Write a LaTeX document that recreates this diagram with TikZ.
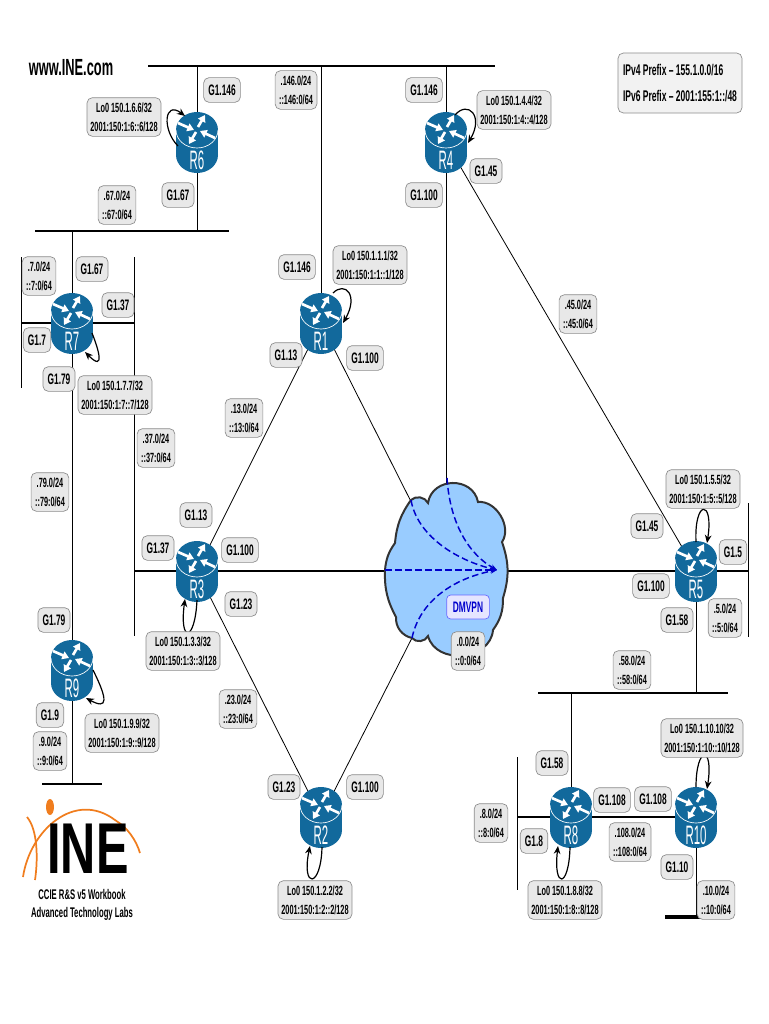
\documentclass[tikz,border=0pt]{standalone}
\usepackage{fontspec}
\setmainfont[FakeStretch=0.55]{Liberation Sans}
\usetikzlibrary{arrows.meta,backgrounds}
\definecolor{routerblue}{HTML}{12699C}
\definecolor{cloudblue}{HTML}{99CCFF}
\definecolor{logoorange}{HTML}{F07D1E}
\tikzset{
  ifbox/.style={draw=black!45,fill=black!9,rounded corners=4pt,line width=0.5pt,inner xsep=3.5pt,inner ysep=0pt,
    minimum height=18.5pt,align=center,font=\fontsize{11.4}{14}\selectfont\bfseries},
  lobox/.style={ifbox,minimum height=29pt,inner xsep=2.5pt,font=\fontsize{10}{14.2}\selectfont\bfseries},
  netbox/.style={ifbox,minimum height=29pt,inner xsep=3pt,font=\fontsize{10}{14.2}\selectfont\bfseries},
  routerbox/.style={inner sep=0pt,minimum width=31pt,minimum height=45pt},
  routername/.style={text=white,inner sep=0pt,xscale=0.78,font=\fontsize{20}{20}\selectfont},
  wire/.style={line width=0.6pt},
  bus/.style={line width=1pt},
  loopback/.style={line width=0.9pt,-{Stealth[length=6pt,width=5pt]}},
  tunnel/.style={draw=blue!80!black,dash pattern=on 5pt off 2.5pt,line width=1.1pt,-{Stealth[length=5pt]}},
}
% router: name, x, y
\newcommand{\router}[3]{%
  \begin{scope}[shift={(#2,#3)}]
    \fill[routerblue] (0,-12) ellipse [x radius=21,y radius=18];
    \fill[routerblue] (0,13) ellipse [x radius=21,y radius=18];
    \fill[routerblue] (-21,-12) rectangle (21,13);
    \draw[white,line width=0.5pt] (-21,-12) arc [start angle=180,end angle=0,x radius=21,y radius=18];
    \draw[white,line width=2pt,-{Triangle[length=5pt,width=6pt]}] (-19,-19) -- (-3,-12);
    \draw[white,line width=2pt,-{Triangle[length=5pt,width=6pt]}] (1,-15) -- (8,-27);
    \draw[white,line width=2pt,-{Triangle[length=5pt,width=6pt]}] (18,-4) -- (3,-11);
    \draw[white,line width=2pt,-{Triangle[length=5pt,width=6pt]}] (-1,-10) -- (-8,2);
    \node[routername] (#1name) at (0,18) {#1};
  \end{scope}
  \node[routerbox] (#1) at (#2,#3) {};
}
% loopback arrow: router, start, control, control, end (relative to router)
\newcommand{\loopback}[5]{%
  \draw[loopback] ([shift={(#2)}]#1.center) .. controls ([shift={(#3)}]#1.center) and ([shift={(#4)}]#1.center) .. ([shift={(#5)}]#1.center);
}
\begin{document}
\begin{tikzpicture}[x=0.75pt,y=-0.75pt]
\useasboundingbox (0,0) rectangle (768,1024);
% routers
\router{R6}{197}{142}
\router{R4}{446}{142}
\router{R1}{321}{323}
\router{R7}{72}{323}
\router{R3}{197}{571}
\router{R5}{696}{571}
\router{R9}{72}{670}
\router{R2}{321}{817}
\router{R8}{571}{817}
\router{R10}{696}{817}
% segment ends
\coordinate (topL) at (148,66);
\coordinate (topR) at (495,66);
\coordinate (net67L) at (35,231);
\coordinate (net67R) at (229,231);
\coordinate (net7T) at (21,257);
\coordinate (net7B) at (21,388);
\coordinate (net37T) at (134,257);
\coordinate (net37B) at (134,636);
\coordinate (net9L) at (42,784);
\coordinate (net9R) at (102,784);
\coordinate (net5T) at (748,503);
\coordinate (net5B) at (748,637);
\coordinate (net58L) at (538,693);
\coordinate (net58R) at (728,693);
\coordinate (net8T) at (517,757);
\coordinate (net8B) at (517,890);
\coordinate (net10L) at (665,917);
\coordinate (net10R) at (726,917);
\coordinate (hub) at (446,571);
\coordinate (tip) at (497,570);
\begin{scope}[on background layer]
  \draw[bus] (topL) -- (topR);
  \draw[bus] (net67L) -- (net67R);
  \draw[bus] (net58L) -- (net58R);
  \draw[bus] (net9L) -- (net9R);
  \draw[line width=2.4pt] (net10L) -- (net10R);
  \draw[wire] (net7T) -- (net7B);
  \draw[wire] (net37T) -- (net37B);
  \draw[wire] (net5T) -- (net5B);
  \draw[wire] (net8T) -- (net8B);
  \draw[wire] (R6.center) -- (R6.center |- topL);
  \draw[wire] (R6.center) -- (R6.center |- net67L);
  \draw[wire] (R1.center) -- (R1.center |- topL);
  \draw[wire] (R4.center) -- (R4.center |- topL);
  \draw[wire] (R4.center) -- (hub);
  \draw[wire] (R4.center) -- (R5.center);
  \draw[wire] (R7.center) -- (R7.center |- net67L);
  \draw[wire] (R7.center) -- (R9.center);
  \draw[wire] (R9.center) -- (R9.center |- net9L);
  \draw[bus] (R7.center) -- (R7.center -| net7T);
  \draw[bus] (R7.center) -- (R7.center -| net37T);
  \draw[bus] (R3.center) -- (R3.center -| net37T);
  \draw[bus] (R3.center) -- (R5.center);
  \draw[bus] (R5.center) -- (R5.center -| net5T);
  \draw[wire] (R5.center) -- (R5.center |- net58L);
  \draw[wire] (R8.center) -- (R8.center |- net58L);
  \draw[bus] (R8.center) -- (R8.center -| net8T);
  \draw[bus] (R8.center) -- (R10.center);
  \draw[wire] (R10.center) -- (R10.center |- net10L);
  \draw[wire] (R1.center) -- (R3.center);
  \draw[wire] (R3.center) -- (R2.center);
  \draw[wire] (R1.center) -- (hub);
  \draw[wire] (R2.center) -- (hub);
\end{scope}
% loopbacks
\loopback{R6}{-19,4}{-35,-12}{-33,-42}{-12,-26}
\loopback{R4}{9,-27}{22,-42}{38,-26}{22,1}
\loopback{R1}{12,-30}{24,-42}{38,-28}{22,0}
\loopback{R7}{20,10}{26,25}{34,50}{13,29}
\loopback{R3}{0,29}{-2,72}{-18,72}{-12,28}
\loopback{R9}{21,0}{36,30}{36,40}{14,28}
\loopback{R2}{1,30}{0,72}{-20,72}{-11,29}
\loopback{R5}{0,-29}{-2,-72}{18,-72}{11,-28}
\loopback{R8}{-1,30}{-2,72}{-18,72}{-13,29}
\loopback{R10}{0,-30}{0,-72}{18,-72}{11,-28}
% cloud
\draw[fill=cloudblue,draw=black!80,line width=1.5pt] (385,570)
  to[bend left=15] (395,543) to[bend left=15] (411,500) to[bend left=55] (428,503)
  to[bend left=80,looseness=1.35] (478,502) to[bend left=65] (502,542) to[bend left=18] (503,598)
  to[bend left=18] (493,630) to[bend left=80,looseness=1.2] (428,636) to[bend left=60] (412,638)
  to[bend left=40] (396,617) to[bend left=15] (385,570) -- cycle;
% tunnels
\coordinate (tun1) at (411,500);
\coordinate (tun2) at (447,478);
\coordinate (tun3) at (385,570);
\coordinate (tun4) at (412,638);
\draw[tunnel] (tun1) .. controls (417,535) and (455,560) .. (tip);
\draw[tunnel] (tun2) .. controls (450,525) and (470,555) .. (tip);
\draw[tunnel] (tun3) -- (tip);
\draw[tunnel] (tun4) .. controls (420,600) and (455,578) .. (tip);
\node[draw=blue!60,fill=blue!10,rounded corners=3pt,line width=0.5pt,minimum width=32pt,minimum height=18pt,inner sep=0pt,text=blue!80!black,font=\fontsize{11.4}{14}\selectfont\bfseries] (dmvpn) at (468,607) {DMVPN};
\node[netbox] (n0) at (468,651) {.0.0/24\\::0:0/64};
% interface labels
\node[ifbox] (r6a) at (222,90) {G1.146};
\node[ifbox] (r6b) at (178,195) {G1.67};
\node[ifbox] (r4a) at (424,90) {G1.146};
\node[ifbox] (r4b) at (486,171) {G1.45};
\node[ifbox] (r4c) at (424,195) {G1.100};
\node[ifbox] (r7a) at (92,269) {G1.67};
\node[ifbox] (r7b) at (118,305) {G1.37};
\node[ifbox] (r7c) at (37,340) {G1.7};
\node[ifbox] (r7d) at (59,379) {G1.79};
\node[ifbox] (r1a) at (297,267) {G1.146};
\node[ifbox] (r1b) at (286,355) {G1.13};
\node[ifbox] (r1c) at (365,358) {G1.100};
\node[ifbox] (r3a) at (196,515) {G1.13};
\node[ifbox] (r3b) at (158,548) {G1.37};
\node[ifbox] (r3c) at (240,550) {G1.100};
\node[ifbox] (r3d) at (241,604) {G1.23};
\node[ifbox] (r9a) at (54,620) {G1.79};
\node[ifbox] (r9b) at (50,715) {G1.9};
\node[ifbox] (r2a) at (284,787) {G1.23};
\node[ifbox] (r2b) at (365,787) {G1.100};
\node[ifbox] (r5a) at (647,526) {G1.45};
\node[ifbox] (r5b) at (651,586) {G1.100};
\node[ifbox] (r5c) at (733,552) {G1.5};
\node[ifbox] (r5d) at (677,620) {G1.58};
\node[ifbox] (r8a) at (552,763) {G1.58};
\node[ifbox] (r8b) at (612,800) {G1.108};
\node[ifbox] (r8c) at (534,841) {G1.8};
\node[ifbox] (r10a) at (653,799) {G1.108};
\node[ifbox] (r10b) at (677,867) {G1.10};
% network labels
\node[netbox] (n146) at (296,90) {.146.0/24\\::146:0/64};
\node[netbox] (n67) at (117,205) {.67.0/24\\::67:0/64};
\node[netbox] (n7) at (39,276) {.7.0/24\\::7:0/64};
\node[netbox] (n13) at (244,418) {.13.0/24\\::13:0/64};
\node[netbox] (n37) at (156,448) {.37.0/24\\::37:0/64};
\node[netbox] (n45) at (578,314) {.45.0/24\\::45:0/64};
\node[netbox] (n79) at (50,492) {.79.0/24\\::79:0/64};
\node[netbox] (n9) at (50,751) {.9.0/24\\::9:0/64};
\node[netbox] (n23) at (238,709) {.23.0/24\\::23:0/64};
\node[netbox] (n5) at (725,618) {.5.0/24\\::5:0/64};
\node[netbox] (n58) at (632,670) {.58.0/24\\::58:0/64};
\node[netbox] (n8) at (491,823) {.8.0/24\\::8:0/64};
\node[netbox] (n108) at (630,842) {.108.0/24\\::108:0/64};
\node[netbox] (n10) at (716,900) {.10.0/24\\::10:0/64};
% loopback labels
\node[lobox] (lo6) at (124,117) {Lo0 150.1.6.6/32\\2001:150:1:6::6/128};
\node[lobox] (lo4) at (514,110) {Lo0 150.1.4.4/32\\2001:150:1:4::4/128};
\node[lobox] (lo1) at (370,265) {Lo0 150.1.1.1/32\\2001:150:1:1::1/128};
\node[lobox] (lo7) at (115,395) {Lo0 150.1.7.7/32\\2001:150:1:7::7/128};
\node[lobox] (lo3) at (183,651) {Lo0 150.1.3.3/32\\2001:150:1:3::3/128};
\node[lobox] (lo9) at (122,733) {Lo0 150.1.9.9/32\\2001:150:1:9::9/128};
\node[lobox] (lo2) at (315,900) {Lo0 150.1.2.2/32\\2001:150:1:2::2/128};
\node[lobox] (lo5) at (703,489) {Lo0 150.1.5.5/32\\2001:150:1:5::5/128};
\node[lobox] (lo10) at (702,738) {Lo0 150.1.10.10/32\\2001:150:1:10::10/128};
\node[lobox] (lo8) at (565,900) {Lo0 150.1.8.8/32\\2001:150:1:8::8/128};
% title and prefixes
\node[inner sep=0pt,font=\fontsize{17.5}{20}\selectfont\bfseries] (site) at (71,68) {www.INE.com};
\node[draw=black!45,fill=black!5,rounded corners=4pt,line width=0.5pt,minimum width=93pt,minimum height=45pt,inner sep=0pt,align=left,font=\fontsize{11.6}{19.5}\selectfont\bfseries] (prefix) at (680,83) {IPv4 Prefix -- 155.1.0.0/16\\IPv6 Prefix -- 2001:155:1::/48};
% logo
\fill[logoorange] (50,807) ellipse [x radius=4,y radius=8];
\draw[logoorange,line width=1.3pt] (23,877) .. controls (30,830) and (75,790) .. (115,820) .. controls (128,828) and (136,840) .. (140,853);
\draw[logoorange,line width=1.3pt] (27,817) .. controls (38,830) and (38,860) .. (35,880);
\node[inner sep=0pt,xscale=1.23,font=\fontsize{54}{54}\selectfont\bfseries] (logo) at (88,849) {INE};
\node[inner sep=0pt,font=\fontsize{10.5}{12}\selectfont\bfseries] (book) at (82,894) {CCIE R\&S v5 Workbook};
\node[inner sep=0pt,font=\fontsize{10.5}{12}\selectfont\bfseries] (labs) at (82,914) {Advanced Technology Labs};
\end{tikzpicture}
\end{document}
